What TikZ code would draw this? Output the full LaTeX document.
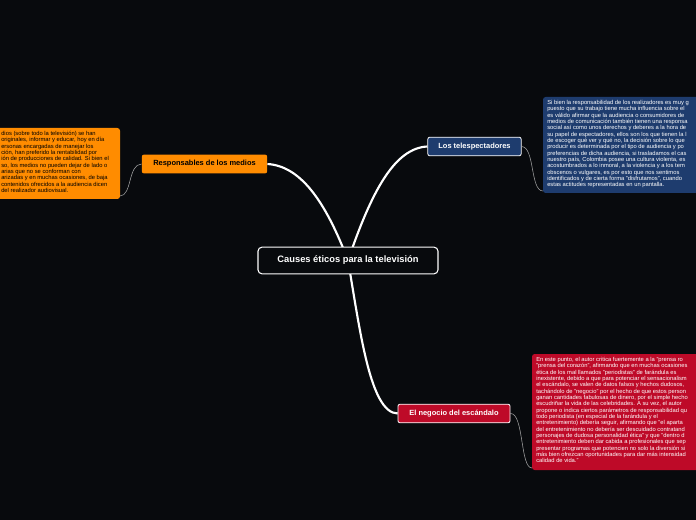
\documentclass[tikz,border=0pt]{standalone}
\usepackage{fontspec}
\setmainfont{Liberation Sans}
\definecolor{dblue}{RGB}{30,60,110}
\definecolor{dred}{RGB}{190,10,40}
\definecolor{org}{RGB}{255,140,0}
\definecolor{bg}{RGB}{8,10,13}
\begin{document}
\begin{tikzpicture}[x=0.75pt,y=-0.75pt,
  branch/.style={rounded corners=1.5pt,font=\bfseries\fontsize{5.6}{6}\selectfont,inner sep=0pt,minimum height=14pt},
  txt/.style={anchor=north west,align=left,inner sep=0pt,font=\fontsize{4.35}{4.75}\selectfont},
  main/.style={line width=1.6pt,white},
  thin/.style={line width=0.4pt,gray!70},
  center/.style={draw=white,line width=0.8pt,rounded corners=3pt,fill=bg,text=white,font=\bfseries\fontsize{7}{8}\selectfont,minimum width=135pt,minimum height=20pt}]
\fill[bg] (0,0) rectangle (696,520);
\path[use as bounding box] (0,0) rectangle (696,520);
\clip (0,0) rectangle (696,520);
% text boxes
\fill[org, rounded corners=2pt] (-20,128) rectangle (120,199);
\coordinate (ob) at (120,196);
\node[txt,text=black] (ot) at (1,131) {dios (sobre todo la televisión) se han\\
 originales, informar y educar, hoy en día\\
ersonas encargadas de manejar los\\
ción, han preferido la rentabilidad por\\
ión de producciones de calidad. Si bien el\\
so, los medios no pueden dejar de lado o\\
arias que no se conforman con\\
arizadas y en muchas ocasiones, de baja\\
contenidos ofrecidos a la audiencia dicen\\
 del realizador audiovisual.};
\fill[dblue, rounded corners=2pt] (543,97) rectangle (720,193);
\coordinate (bb) at (543,191);
\node[txt,text=white] (bt) at (547,100) {Si bien la responsabilidad de los realizadores es muy g\\
puesto que su trabajo tiene mucha influencia sobre el\\
es válido afirmar que la audiencia o consumidores de\\
medios de comunicación también tienen una responsa\\
social así como unos derechos y deberes a la hora de\\
su papel de espectadores, ellos son los que tienen la l\\
de escoger qué ver y qué no, la decisión sobre lo que\\
producir es determinada por el tipo de audiencia y po\\
preferencias de dicha audiencia, si trasladamos el cas\\
nuestro país, Colombia posee una cultura violenta, es\\
acostumbrados a lo inmoral, a la violencia y a los tem\\
obscenos o vulgares, es por esto que nos sentimos\\
identificados y de cierta forma "disfrutamos", cuando\\
estas actitudes representadas en un pantalla.};
\fill[dred, rounded corners=2pt] (532,354) rectangle (720,470);
\coordinate (rb) at (532,468);
\node[txt,text=white] (rt) at (536,357) {En este punto, el autor critica fuertemente a la "prensa ro\\
"prensa del corazón", afirmando que en muchas ocasiones\\
ética de los mal llamados "periodistas" de farándula es\\
inexistente, debido a que para potenciar el sensacionalism\\
el escándalo, se valen de datos falsos y hechos dudosos,\\
tachándolo de "negocio" por el hecho de que estos person\\
ganan cantidades fabulosas de dinero, por el simple hecho\\
escudriñar la vida de las celebridades. A su vez, el autor\\
propone o indica ciertos parámetros de responsabilidad qu\\
todo periodista (en especial de la farándula y el\\
entretenimiento) debería seguir, afirmando que "el aparta\\
del entretenimiento no debería ser descuidado contratand\\
personajes de dudosa personalidad ética" y que "dentro d\\
entretenimiento deben dar cabida a profesionales que sep\\
presentar programas que potencien no solo la diversión si\\
más bien ofrezcan oportunidades para dar más intensidad\\
calidad de vida."};
% branches
\node[branch,fill=org,text=black,minimum width=94pt] (resp) at (204.5,164) {Responsables de los medios};
\node[branch,draw=white,line width=0.6pt,fill=dblue,text=white,minimum width=70pt] (tele) at (474.5,146.5) {Los telespectadores};
\node[branch,draw=white,line width=0.6pt,fill=dred,text=white,minimum width=84pt] (neg) at (454,413.5) {El negocio del escándalo};
\coordinate (c) at (348,260.5);
% connectors
\draw[main] (c) .. controls (325,200) and (300,166) .. (resp.east);
\draw[main] (c) .. controls (372,190) and (395,148) .. (tele.west);
\draw[main] (c) .. controls (360,330) and (370,413) .. (neg.west);
\draw[thin] (resp.west) .. controls (128,164) and (132,196) .. (ob);
\draw[thin] (tele.east) .. controls (535,147) and (530,191) .. (bb);
\draw[thin] (neg.east) .. controls (524,413) and (520,468) .. (rb);
\node[center] (cn) at (c) {Causes éticos para la televisión};
\end{tikzpicture}
\end{document}
